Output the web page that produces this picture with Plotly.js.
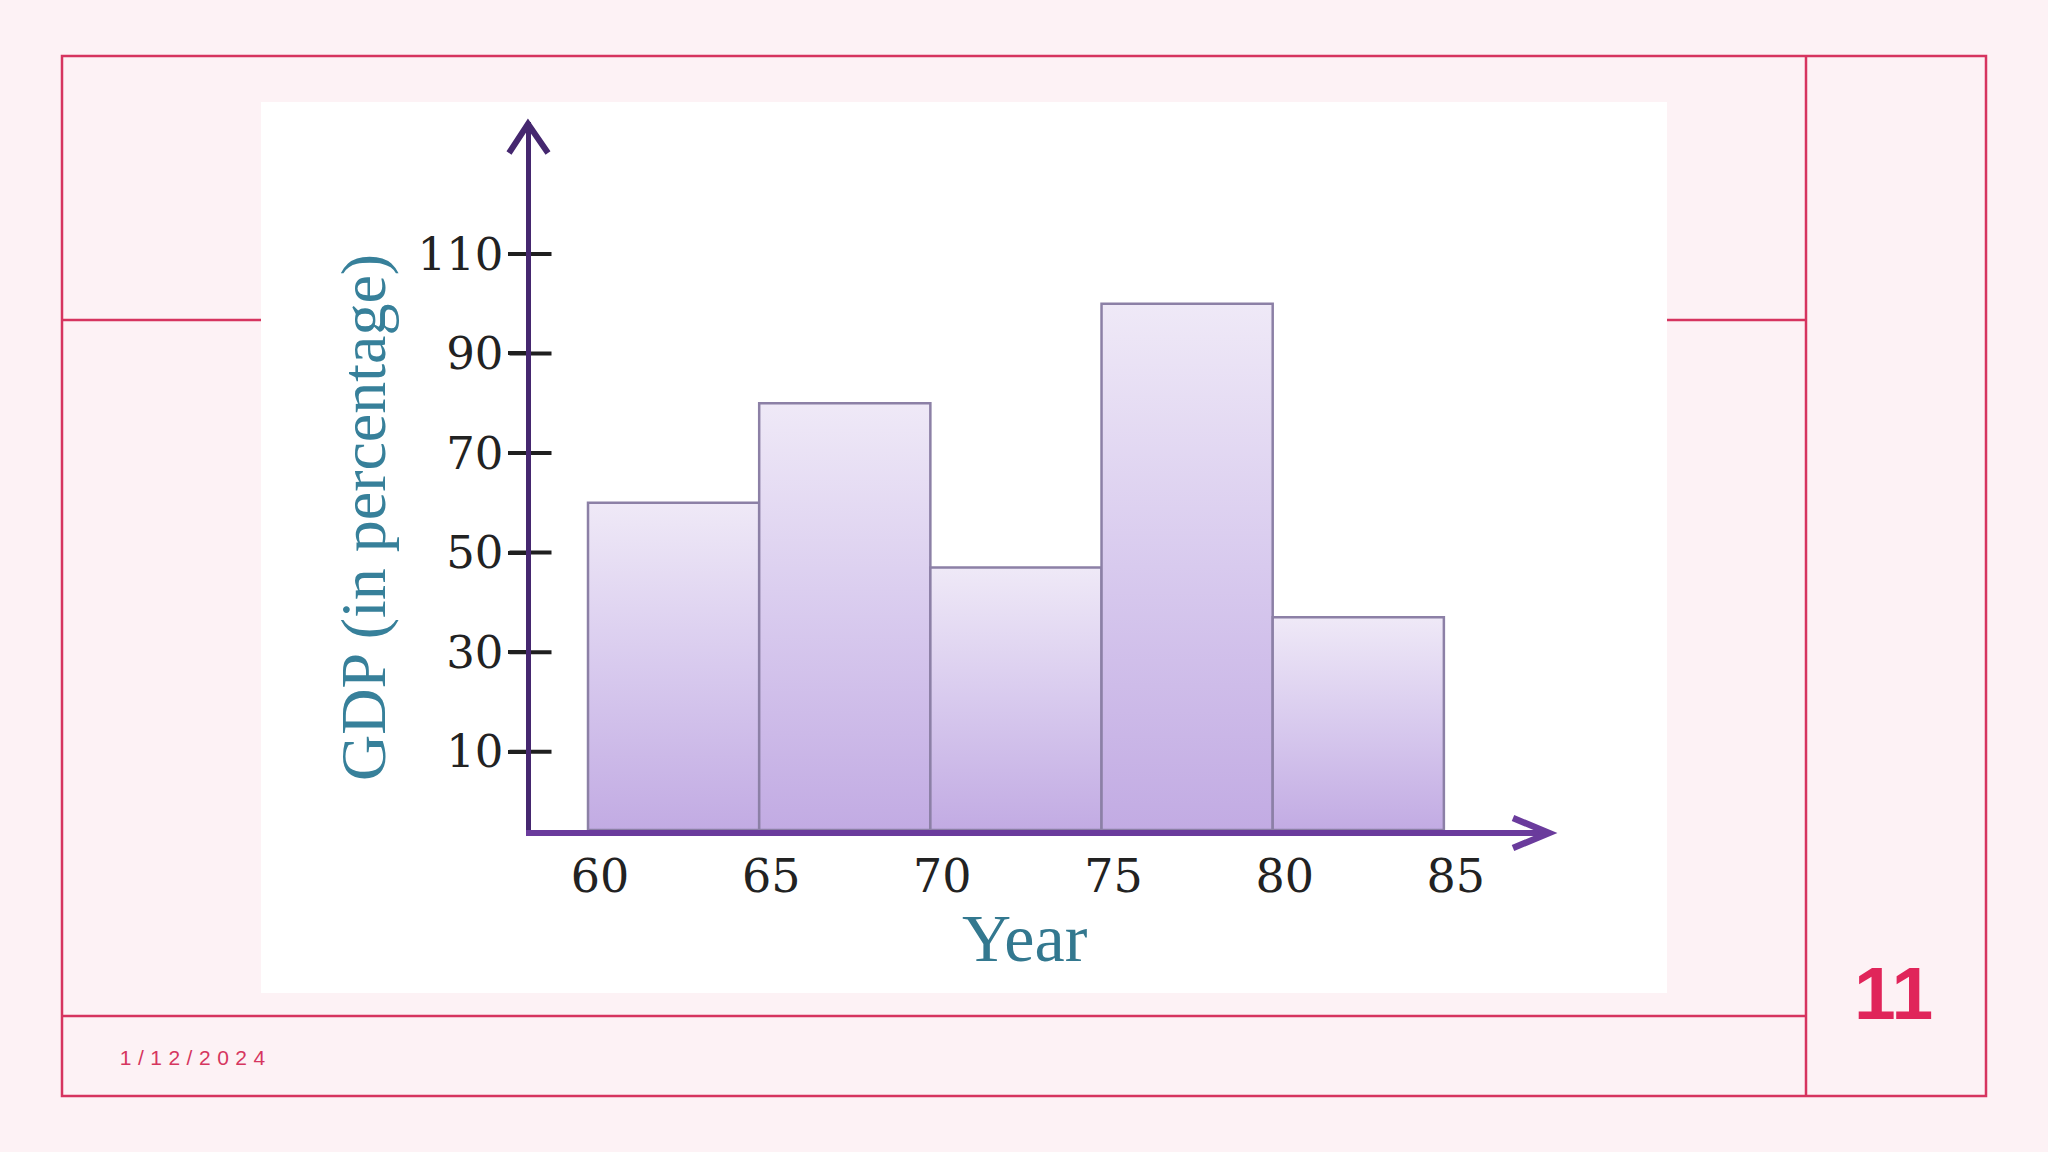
<!DOCTYPE html>
<html>
<head>
<meta charset="utf-8">
<script src="https://cdn.plot.ly/plotly-3.0.1.min.js"></script>
<style>
  html, body { margin: 0; padding: 0; background: #fdf2f5; }
  #chart { width: 2048px; height: 1152px; }
</style>
</head>
<body>
<div id="chart"></div>
<script>
// ---- data ----
const binEdges = [60, 65, 70, 75, 80, 85];
const gdpValues = [60, 80, 47, 100, 37];
const xTickLabels = ['60', '65', '70', '75', '80', '85'];
const yTickValues = [10, 30, 50, 70, 90, 110];
const yTickLabels = ['10', '30', '50', '70', '90', '110'];
const xTitle = 'Year';
const yTitle = 'GDP (in percentage)';
const slideDate = '1/12/2024';
const slideNumber = '11';

// ---- layout helpers ----
const W = 2048, H = 1152;
const px = v => v / W;
const py = v => 1 - v / H;
const X_RANGE = [58.32, 88.1];
const Y_RANGE = [-5.73, 136.5];
const FRAME = '#d6345f';
const BG = '#fdf2f5';

const traces = [];
for (let i = 0; i < gdpValues.length; i++) {
  const x0 = binEdges[i], x1 = binEdges[i + 1], v = gdpValues[i], b = Y_RANGE[0];
  traces.push({
    type: 'scatter',
    mode: 'lines',
    x: [x0, x0, x1, x1, x0],
    y: [b, v, v, b, b],
    fill: 'toself',
    fillgradient: {
      type: 'vertical',
      colorscale: [[0, '#c2abe3'], [0.5, '#d8caee'], [1, '#efe9f7']]
    },
    line: { color: '#8c80a6', width: 2.5 },
    name: binEdges[i] + '-' + binEdges[i + 1],
    hoverinfo: 'text',
    text: binEdges[i] + '–' + binEdges[i + 1] + ': ' + v,
    showlegend: false
  });
}

// tick marks crossing the y axis (right half drawn as markers on the axis)
traces.push({
  type: 'scatter',
  mode: 'markers',
  x: yTickValues.map(() => X_RANGE[0]),
  y: yTickValues,
  marker: { symbol: 'line-ew', size: 30, line: { color: '#1f1f1f', width: 4 } },
  cliponaxis: false,
  hoverinfo: 'skip',
  showlegend: false
});

const shapes = [
  { type: 'line', xref: 'paper', yref: 'paper', x0: px(62), x1: px(1806), y0: py(320), y1: py(320), line: { color: FRAME, width: 2.5 }, layer: 'below' },
  { type: 'rect', xref: 'paper', yref: 'paper', x0: px(261), x1: px(1667), y0: py(102), y1: py(993), fillcolor: '#ffffff', line: { width: 0 }, layer: 'below' },
  { type: 'rect', xref: 'paper', yref: 'paper', x0: px(62), x1: px(1986), y0: py(56), y1: py(1096), line: { color: FRAME, width: 2.5 }, fillcolor: 'rgba(0,0,0,0)', layer: 'below' },
  { type: 'line', xref: 'paper', yref: 'paper', x0: px(1806), x1: px(1806), y0: py(56), y1: py(1096), line: { color: FRAME, width: 2.5 }, layer: 'below' },
  { type: 'line', xref: 'paper', yref: 'paper', x0: px(62), x1: px(1806), y0: py(1016), y1: py(1016), line: { color: FRAME, width: 2.5 }, layer: 'below' },
  { type: 'path', xref: 'paper', yref: 'paper',
    path: `M ${px(509)} ${py(153)} L ${px(528)} ${py(124)} L ${px(548)} ${py(153)}`,
    line: { color: '#45276f', width: 6 }, layer: 'above' },
  { type: 'path', xref: 'paper', yref: 'paper',
    path: `M ${px(1513)} ${py(818)} L ${px(1549)} ${py(833)} L ${px(1513)} ${py(848)}`,
    line: { color: '#6a3b9c', width: 6.5 }, layer: 'above' }
];

const annotations = [
  { xref: 'paper', yref: 'paper', x: px(363), y: py(518), text: yTitle, textangle: -90,
    showarrow: false, xanchor: 'center', yanchor: 'middle',
    font: { family: 'Liberation Serif', size: 64, color: '#37809a' } },
  { xref: 'paper', yref: 'paper', x: px(1025), y: py(938), text: xTitle,
    showarrow: false, xanchor: 'center', yanchor: 'middle',
    font: { family: 'Liberation Serif', size: 68, color: '#33788f' } },
  { xref: 'paper', yref: 'paper', x: px(1893), y: py(993), text: slideNumber,
    showarrow: false, xanchor: 'center', yanchor: 'middle',
    font: { family: 'Liberation Sans', size: 75, color: '#e0255a', weight: 700 } },
  { xref: 'paper', yref: 'paper', x: px(196), y: py(1057), text: slideDate,
    showarrow: false, xanchor: 'center', yanchor: 'middle',
    font: { family: 'Liberation Sans', size: 21, color: '#d6365f' } }
];

const layout = {
  width: W, height: H,
  margin: { l: 0, r: 0, t: 0, b: 0, pad: 0 },
  paper_bgcolor: BG,
  plot_bgcolor: 'rgba(0,0,0,0)',
  showlegend: false,
  xaxis: {
    domain: [px(530.5), px(1550)],
    range: X_RANGE,
    tickmode: 'array', tickvals: binEdges, ticktext: xTickLabels,
    ticks: '', showgrid: false, zeroline: false,
    showline: true, linecolor: '#6a3b9c', linewidth: 6,
    tickfont: { family: 'DejaVu Serif', size: 46, color: '#222222' },
    ticklabelstandoff: 1, ticklabelshift: 12,
    fixedrange: true
  },
  yaxis: {
    domain: [py(830), py(122)],
    range: Y_RANGE,
    tickmode: 'array', tickvals: yTickValues, ticktext: yTickLabels,
    ticks: 'outside', ticklen: 18, tickwidth: 4, tickcolor: '#1f1f1f',
    showgrid: false, zeroline: false,
    showline: true, linecolor: '#45276f', linewidth: 5,
    tickfont: { family: 'DejaVu Serif', size: 45, color: '#222222' },
    ticklabelstandoff: -5,
    fixedrange: true
  },
  shapes: shapes,
  annotations: annotations
};

Plotly.newPlot('chart', traces, layout, { displayModeBar: false, staticPlot: true }).then(() => {
  document.querySelectorAll('#chart .annotation-text').forEach(t => {
    if (t.textContent === slideDate) {
      t.setAttribute('letter-spacing', '6.5px');
    }
  });
});
</script>
</body>
</html>
